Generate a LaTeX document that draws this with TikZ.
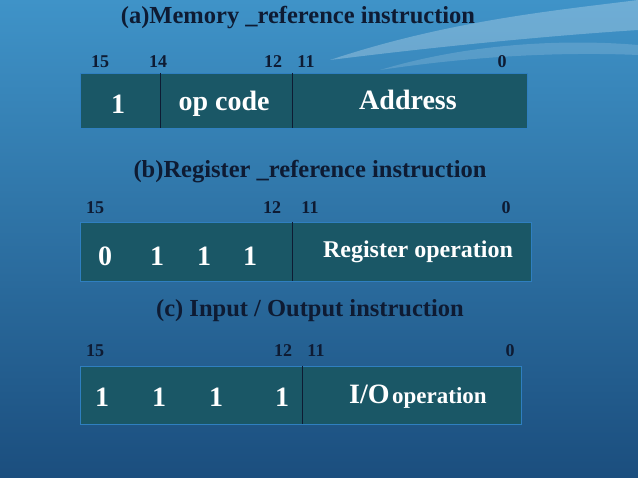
\documentclass[tikz,border=0pt]{standalone}
\usepackage{fontspec}
\setmainfont{Liberation Serif}
\begin{document}
\begin{tikzpicture}[x=1pt,y=-1pt,
  bx/.style={draw=bord, line width=0.8pt, fill=boxc},
  wt/.style={text=white, font=\bfseries\fontsize{28}{30}\selectfont},
  wts/.style={text=white, font=\bfseries\fontsize{24}{26}\selectfont},
  num/.style={text=numc, font=\bfseries\fontsize{18}{20}\selectfont},
  ttl/.style={text=numc, font=\bfseries\fontsize{24.5}{26}\selectfont}]
\definecolor{bgtop}{HTML}{3F93C8}
\definecolor{bgbot}{HTML}{1B4E7E}
\definecolor{boxc}{HTML}{1A5766}
\definecolor{bord}{HTML}{2F7FC0}
\definecolor{numc}{HTML}{0E1B33}
\shade[top color=bgtop, bottom color=bgbot] (0,0) rectangle (638,478);
\useasboundingbox (0,0) rectangle (638,478);
\fill[white,opacity=0.25] (330,60) .. controls (450,20) and (560,10) .. (638,0) -- (638,30) .. controls (560,35) and (450,45) .. (330,60) -- cycle;
\fill[white,opacity=0.15] (380,70) .. controls (480,40) and (580,40) .. (638,45) -- (638,55) .. controls (570,52) and (480,55) .. (380,70) -- cycle;
% (a)
\node[ttl] (ta) at (298,18) {(a)Memory \_reference instruction};
\node[bx,minimum width=447,minimum height=55,anchor=north west] (ba) at (80,73) {};
\draw[numc,line width=0.8pt] (160,73) -- (160,128) (292,73) -- (292,128);
\node[num] (a15) at (100,62) {15};
\node[num] (a14) at (158,62) {14};
\node[num] (a12) at (273,62) {12};
\node[num] (a11) at (306,62) {11};
\node[num] (a0) at (502,62) {0};
\node[wt] (a1) at (118,104) {1};
\node[wt] (aop) at (224,104) {op code};
\node[wt] (aad) at (408,100) {Address};
% (b)
\node[ttl] (tb) at (310,172) {(b)Register \_reference instruction};
\node[bx,minimum width=451,minimum height=59,anchor=north west] (bb) at (80,222) {};
\draw[numc,line width=0.8pt] (292,222) -- (292,281);
\node[num] (b15) at (95,208) {15};
\node[num] (b12) at (272,208) {12};
\node[num] (b11) at (310,208) {11};
\node[num] (b0) at (506,208) {0};
\node[wt] (b1) at (105,256) {0};
\node[wt] (b2) at (157,256) {1};
\node[wt] (b3) at (204,256) {1};
\node[wt] (b4) at (250,256) {1};
\node[wts] (bro) at (418,252) {Register operation};
% (c)
\node[ttl] (tc) at (310,311) {(c) Input / Output instruction};
\node[bx,minimum width=441,minimum height=58,anchor=north west] (bc) at (80,366) {};
\draw[numc,line width=0.8pt] (302,366) -- (302,424);
\node[num] (c15) at (95,351) {15};
\node[num] (c12) at (283,351) {12};
\node[num] (c11) at (316,351) {11};
\node[num] (c0) at (510,351) {0};
\node[wt] (c1) at (102,397) {1};
\node[wt] (c2) at (159,397) {1};
\node[wt] (c3) at (216,397) {1};
\node[wt] (c4) at (282,397) {1};
\node[text=white,font=\bfseries] (cio) at (418,397) {{\fontsize{28}{30}\selectfont I/O} {\fontsize{23}{25}\selectfont operation}};
\end{tikzpicture}
\end{document}
